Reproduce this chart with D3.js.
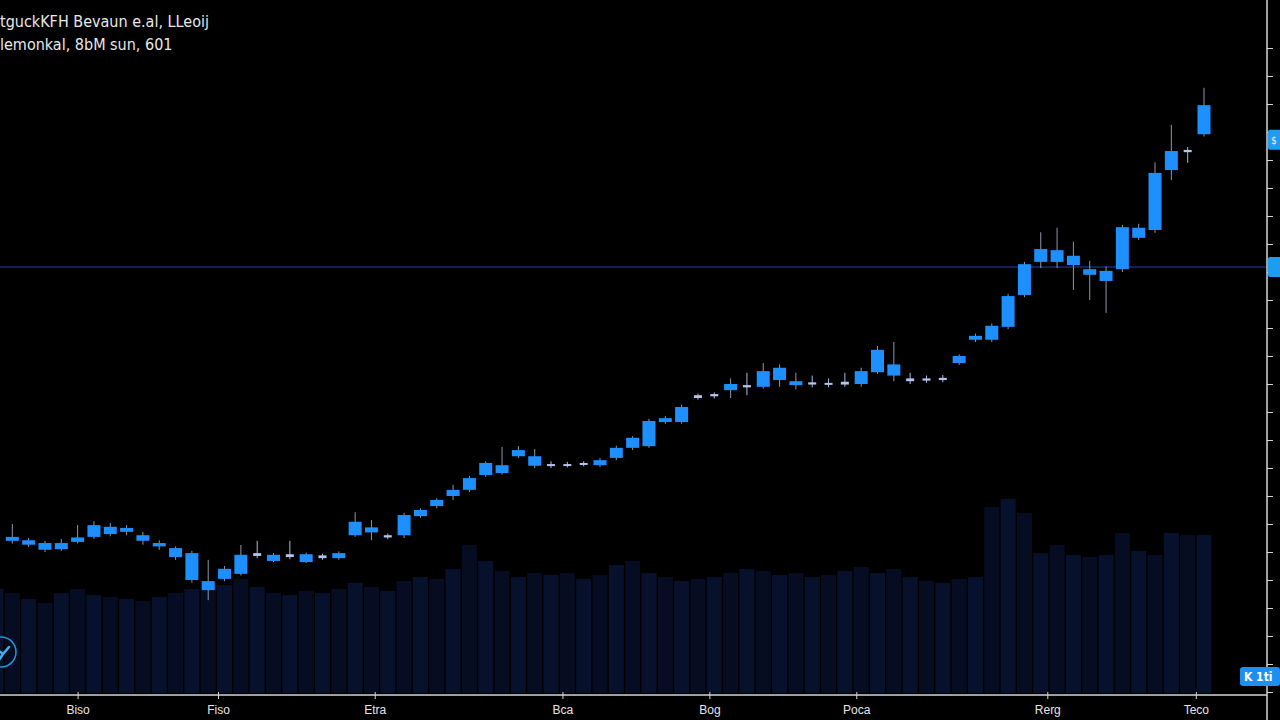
<!DOCTYPE html>
<html>
<head>
<meta charset="utf-8">
<script src="https://cdn.jsdelivr.net/npm/d3@7"></script>
<style>
  body { margin: 0; background: #000; }
  svg { display: block; font-family: "DejaVu Sans Condensed", "DejaVu Sans", sans-serif; }
</style>
</head>
<body>
<script>
// candle data, one value per session
var opens  = [32.5, 32.7, 32.1, 31.6, 30.5, 31.8, 32.7, 33.2, 34.3, 33.0, 31.6, 30.7, 29.8, 24.8, 25.2, 26.1, 29.3, 28.4, 29.1, 28.2,
              28.9, 28.9, 33.0, 34.4, 33.0, 33.0, 36.4, 38.2, 40.0, 41.1, 43.75, 45.5, 47.1, 45.4, 45.7, 45.4, 45.6, 45.5, 46.8, 48.6,
              48.9, 53.2, 53.2, 57.5, 57.8, 58.9, 59.8, 59.5, 60.7, 60.5, 59.9, 60.2, 59.9, 60.0, 62.1, 63.5, 61.0, 60.6, 60.7, 63.75,
              67.9, 67.9, 70.2, 75.9, 81.8, 83.9, 82.9, 80.5, 80.2, 80.5, 86.1, 87.5, 98.2, 101.4, 104.6];
var closes = [32.1, 32.0, 31.3, 30.4, 31.6, 32.6, 34.8, 34.5, 33.6, 32.0, 31.0, 29.1, 25.0, 23.2, 27.0, 29.5, 29.8, 29.5, 29.6, 29.6,
              29.4, 29.8, 35.4, 33.5, 32.6, 36.6, 37.5, 39.3, 41.1, 43.2, 45.9, 44.1, 48.2, 47.1, 45.4, 45.7, 45.9, 46.4, 48.6, 50.4,
              53.4, 53.9, 55.9, 58.0, 58.2, 60.0, 59.4, 62.3, 62.9, 59.8, 60.3, 59.9, 60.4, 62.3, 66.1, 61.5, 60.5, 61.0, 61.1, 65.0,
              68.6, 70.4, 75.7, 81.4, 84.1, 81.8, 81.25, 79.5, 78.4, 88.0, 87.9, 97.7, 101.6, 101.8, 109.8];
var highs  = [34.0, 35.0, 32.5, 32.0, 32.3, 34.8, 35.5, 35.2, 34.8, 33.6, 32.1, 31.0, 30.2, 28.6, 27.5, 31.25, 32.0, 29.8, 32.0, 29.9,
              29.7, 30.1, 37.1, 35.7, 33.3, 37.0, 37.8, 39.6, 42.0, 43.6, 46.2, 48.75, 48.9, 48.4, 46.2, 46.1, 46.2, 46.8, 49.0, 50.7,
              53.8, 54.3, 56.3, 58.3, 58.5, 61.0, 62.0, 63.75, 63.5, 62.0, 61.5, 61.0, 62.0, 62.9, 66.8, 67.5, 62.0, 61.5, 61.6, 65.3,
              69.0, 70.8, 76.1, 81.8, 87.1, 87.9, 85.4, 82.0, 81.0, 88.4, 88.6, 99.6, 106.3, 102.3, 112.9];
var lows   = [31.6, 31.5, 30.9, 30.0, 30.2, 31.5, 32.3, 32.8, 33.0, 31.3, 30.4, 28.6, 24.5, 21.4, 24.8, 25.8, 28.9, 28.2, 28.7, 28.0,
              28.6, 28.6, 32.7, 32.1, 32.3, 32.5, 36.1, 37.8, 39.3, 40.7, 43.4, 43.8, 46.8, 45.0, 45.0, 45.1, 45.3, 45.2, 46.4, 48.2,
              48.6, 52.9, 52.9, 57.2, 57.4, 57.5, 58.0, 59.2, 59.5, 59.0, 59.4, 59.4, 59.5, 59.5, 61.8, 60.5, 60.0, 60.2, 60.3, 63.4,
              67.5, 67.5, 69.8, 75.5, 80.7, 80.7, 76.8, 75.0, 72.7, 80.0, 85.7, 87.0, 96.4, 99.5, 104.2];
var volumes = [52, 50, 47, 45, 50, 52, 49, 48, 47, 46, 48, 50, 52, 55, 54, 57, 53, 50, 49, 51,
               50, 52, 55, 53, 51, 56, 58, 57, 62, 74, 66, 61, 58, 60, 59, 60, 57, 59, 64, 66,
               60, 58, 56, 57, 58, 60, 62, 61, 59, 60, 58, 59, 61, 63, 60, 62, 58, 56, 55, 57,
               58, 93, 97, 90, 70, 74, 69, 68, 69, 80, 71, 69, 80, 79, 79];

var tickPos    = [5, 13.6, 23.2, 34.7, 43.7, 52.7, 64.4, 73.5];
var tickLabels = ["Biso", "Fiso", "Etra", "Bca", "Bog", "Poca", "Rerg", "Teco"];

var titleLines = ["tguckKFH Bevaun e.al, LLeoij", "lemonkal, 8bM sun, 601"];
var refLevel = 80.9;
var markerPrices = [103.6, 80.9];
var markerLabels = ["$", ""];
var volumeLabel = "K 1ti";

var width = 1280,
    height = 720,
    axisX = 1267,
    axisY = 695;

var candles = opens.map(function (o, i) {
    return { i: i, o: o, c: closes[i], h: highs[i], l: lows[i], v: volumes[i] };
});

var x = d3.scaleLinear().domain([0, opens.length - 1]).range([-4, 1204]);
var y = d3.scaleLinear().domain([0, 120]).range([720, 48]);
var yVol = d3.scaleLinear().domain([0, 100]).range([693, 493]);

var svg = d3.select("body").append("svg")
    .attr("width", width)
    .attr("height", height);

svg.append("rect").attr("width", width).attr("height", height).attr("fill", "#000");

// volume (very dim)
svg.append("g").selectAll("rect")
    .data(candles)
    .join("rect")
    .attr("x", function (d) { return x(d.i) - 7.5; })
    .attr("width", 15)
    .attr("y", function (d) { return yVol(d.v); })
    .attr("height", function (d) { return yVol(0) - yVol(d.v); })
    .attr("fill", function (d) { return d.i % 2 ? "#060d22" : "#08112b"; });

// reference level
svg.append("line")
    .attr("x1", 0).attr("x2", axisX)
    .attr("y1", y(refLevel)).attr("y2", y(refLevel))
    .attr("stroke", "#1c2a70")
    .attr("stroke-width", 1.5);

function isSmall(d) { return Math.abs(d.o - d.c) < 0.6; }

var candle = svg.append("g").selectAll("g")
    .data(candles)
    .join("g");

candle.append("line")
    .attr("x1", function (d) { return x(d.i); })
    .attr("x2", function (d) { return x(d.i); })
    .attr("y1", function (d) { return y(d.h); })
    .attr("y2", function (d) { return y(d.l); })
    .attr("stroke", function (d) { return isSmall(d) ? "#aab8e0" : "#8f96ad"; })
    .attr("stroke-width", 1);

candle.append("rect")
    .attr("x", function (d) { return x(d.i) - (isSmall(d) ? 4 : 6.5); })
    .attr("width", function (d) { return isSmall(d) ? 8 : 13; })
    .attr("y", function (d) { return y(Math.max(d.o, d.c)); })
    .attr("height", function (d) { return Math.max(2, Math.abs(y(d.o) - y(d.c))); })
    .attr("fill", function (d) { return isSmall(d) ? "#b4c4ee" : "#1e8fff"; });

// axes
var xAxis = d3.axisBottom(x)
    .tickValues(tickPos)
    .tickSize(4)
    .tickPadding(6)
    .tickFormat(function (d, i) { return tickLabels[i]; });

var gx = svg.append("g")
    .attr("transform", "translate(0," + axisY + ")")
    .call(xAxis);
gx.select(".domain").attr("d", "M0,0H" + axisX).attr("stroke", "#d6d6d6").attr("stroke-width", 1.5);
gx.selectAll(".tick line").attr("stroke", "#d6d6d6").attr("y1", -3);
gx.selectAll(".tick text").attr("fill", "#e6e6e6").style("font-size", "12px");

// right price axis, labels fall outside the window
var yAxis = d3.axisRight(y)
    .ticks(24)
    .tickSize(6)
    .tickFormat("");

var gy = svg.append("g")
    .attr("transform", "translate(" + axisX + ",0)")
    .call(yAxis);
gy.select(".domain").attr("d", "M0,0V" + height).attr("stroke", "#d6d6d6").attr("stroke-width", 1.5);
gy.selectAll(".tick line").attr("stroke", "#d6d6d6");

// price markers
var marker = svg.append("g").selectAll("g")
    .data(markerPrices)
    .join("g")
    .attr("transform", function (d) { return "translate(" + (axisX + 1) + "," + y(d) + ")"; });
marker.append("rect")
    .attr("x", 0).attr("y", -10)
    .attr("width", 14).attr("height", 20)
    .attr("rx", 2)
    .attr("fill", "#1e9cf0");
marker.append("text")
    .attr("x", 3).attr("y", 4)
    .attr("fill", "#e8f4ff")
    .style("font-size", "10px")
    .text(function (d, i) { return markerLabels[i]; });

// volume marker
var vm = svg.append("g").attr("transform", "translate(1240,667)");
vm.append("rect").attr("width", 40).attr("height", 19).attr("rx", 3).attr("fill", "#1e8ff0");
vm.append("text").attr("x", 4).attr("y", 14).attr("fill", "#fff")
    .style("font-size", "12px").style("font-weight", "bold").text(volumeLabel);

// title
svg.append("g").selectAll("text")
    .data(titleLines)
    .join("text")
    .attr("x", 0)
    .attr("y", function (d, i) { return 27 + i * 23; })
    .attr("fill", "#e8e8e8")
    .style("font-size", "16px")
    .text(function (d) { return d; });

// logo
var logo = svg.append("g").attr("transform", "translate(1,652)");
logo.append("circle").attr("r", 15).attr("fill", "none").attr("stroke", "#1a9ad8").attr("stroke-width", 1.5);
logo.append("path")
    .attr("d", "M-6,-4 L2,2 L8,-5 M2,2 L-2,8")
    .attr("fill", "none").attr("stroke", "#3fb0f0").attr("stroke-width", 2.5).attr("stroke-linecap", "round");
</script>
</body>
</html>
